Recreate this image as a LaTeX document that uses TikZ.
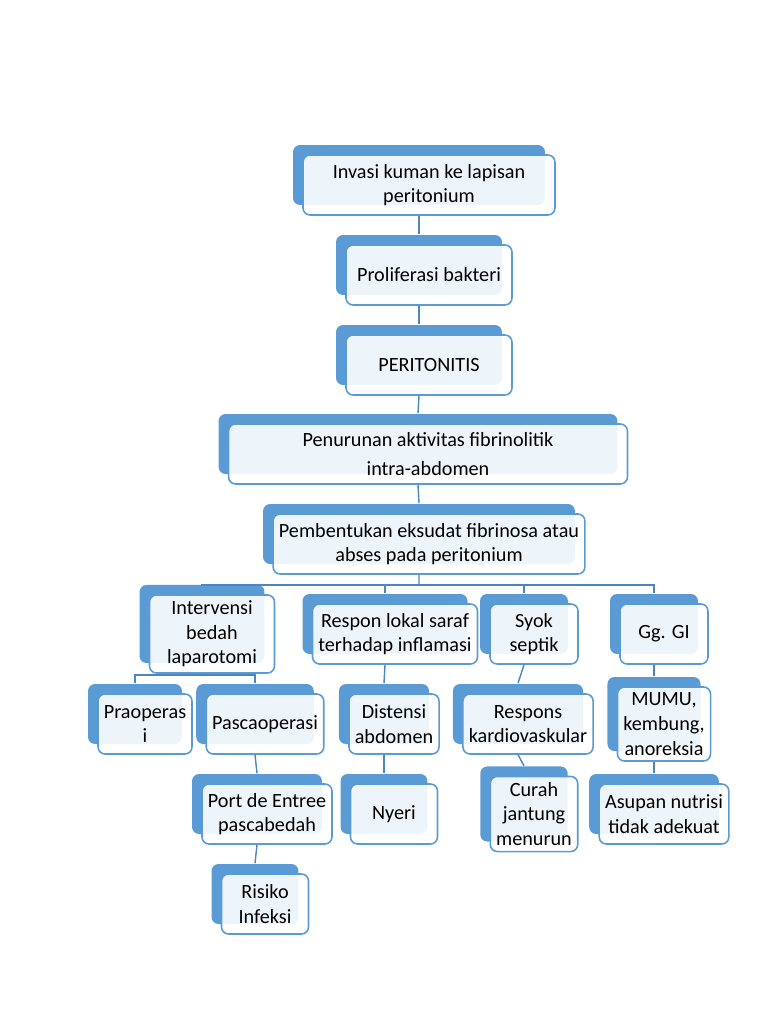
\documentclass[tikz,border=0pt]{standalone}
\usepackage{fontspec}
\setmainfont{Carlito}
\usetikzlibrary{shadows}
\definecolor{boxblue}{HTML}{5B9BD5}
\definecolor{linkblue}{HTML}{4A86C0}
\begin{document}
\begin{tikzpicture}[
    x = 0.02cm,
    y = -0.02cm,
    box/.style = {
      draw = boxblue,
      line width = 0.9pt,
      rounded corners = 4pt,
      fill = white,
      fill opacity = 0.9,
      text opacity = 1,
      align = center,
      minimum height = 1.2cm,
      font = \fontsize{11.5}{14}\selectfont,
      general shadow = {fill = boxblue, shadow xshift = -0.2cm,
        shadow yshift = 0.2cm, fill opacity = 1, draw = none}
    },
    link/.style = {draw = linkblue, line width = 0.8pt}
  ]
  \useasboundingbox (0,0) rectangle (768,1024);

  \node[box, minimum width=5.04cm] (inv) at (429,185) {Invasi kuman ke lapisan\\peritonium};
  \node[box, minimum width=3.32cm] (pro) at (429,275) {Proliferasi bakteri};
  \node[box, minimum width=3.32cm] (per) at (429,365) {PERITONITIS};
  \node[box, minimum width=7.98cm, font=\fontsize{11.5}{17}\selectfont] (pen) at (428,454) {Penurunan aktivitas fibrinolitik\\intra-abdomen};
  \node[box, minimum width=5.48cm] (pem) at (429,544) {Pembentukan eksudat fibrinosa atau\\abses pada peritonium};

  \node[box, minimum width=2.5cm] (int) at (212,634) {Intervensi\\bedah\\laparotomi};
  \node[box, minimum width=3.02cm] (res) at (395,634) {Respon lokal saraf\\terhadap inflamasi};
  \node[box, minimum width=1.76cm] (syo) at (534,634) {Syok\\septik};
  \node[box, minimum width=1.76cm] (ggi) at (664,634) {Gg. GI};

  \node[box, minimum width=1.74cm] (pra) at (145,724) {Praoperas\\i};
  \node[box, minimum width=2.26cm] (pas) at (265,724) {Pascaoperasi};
  \node[box, minimum width=1.74cm] (dis) at (394,724) {Distensi\\abdomen};
  \node[box, minimum width=2.38cm] (kar) at (528,724) {Respons\\kardiovaskular};
  \node[box, minimum width=1.76cm] (mum) at (664,724) {MUMU,\\kembung,\\anoreksia};

  \node[box, minimum width=2.56cm] (por) at (267,814) {Port de Entree\\pascabedah};
  \node[box, minimum width=1.74cm] (nye) at (394,814) {Nyeri};
  \node[box, minimum width=1.74cm] (cur) at (534,814) {Curah\\jantung\\menurun};
  \node[box, minimum width=2.56cm] (asu) at (664,814) {Asupan nutrisi\\tidak adekuat};

  \node[box, minimum width=1.74cm] (ris) at (265,904) {Risiko\\Infeksi};

  % main column
  \foreach \a/\b in {inv/pro, pro/per, per/pen, pen/pem}
    \draw[link] ([xshift=-0.2cm]\a.south) -- ([xshift=-0.2cm,yshift=0.2cm]\b.north);

  % branch to the four groups
  \coordinate (bus) at (419,585);
  \draw[link] ([xshift=-0.2cm]pem.south) -- (bus);
  \draw[link] (202,585) -- (655,585);
  \foreach \b in {int, res, syo, ggi}
    \draw[link] ([xshift=-0.2cm,yshift=0.2cm]\b.north) |- (bus);

  % intervensi split
  \coordinate (sub) at (202,675);
  \draw[link] ([xshift=-0.2cm]int.south) -- (sub);
  \draw[link] (135,675) -- (255,675);
  \foreach \b in {pra, pas}
    \draw[link] ([xshift=-0.2cm,yshift=0.2cm]\b.north) |- (sub);

  % columns below
  \foreach \a/\b in {pas/por, por/ris, res/dis, dis/nye, syo/kar, kar/cur, ggi/mum, mum/asu}
    \draw[link] ([xshift=-0.2cm]\a.south) -- ([xshift=-0.2cm,yshift=0.2cm]\b.north);
\end{tikzpicture}
\end{document}
